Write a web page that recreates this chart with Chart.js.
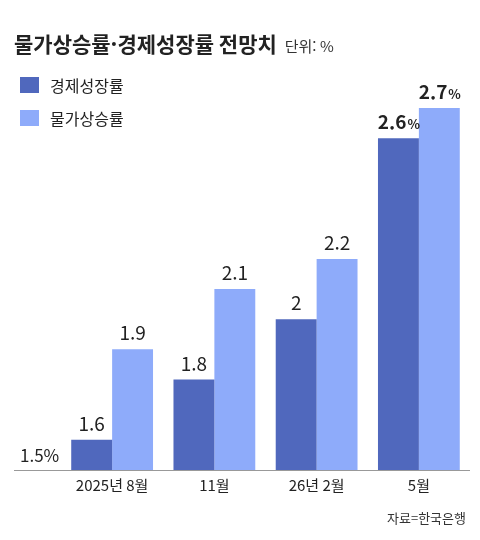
<!DOCTYPE html>
<html lang="ko">
<head>
<meta charset="UTF-8">
<script src="https://cdn.jsdelivr.net/npm/chart.js"></script>
<style>
  html, body { margin: 0; padding: 0; background: #fff; }
  #wrap { width: 480px; height: 540px; position: relative; }
</style>
</head>
<body>
<div id="wrap"><canvas id="c"></canvas></div>
<script>
const categories = ['2025년 8월', '11월', '26년 2월', '5월'];
const growth = [1.6, 1.8, 2, 2.6];
const inflation = [1.9, 2.1, 2.2, 2.7];
const growthLabels = ['1.6', '1.8', '2', '2.6'];
const inflationLabels = ['1.9', '2.1', '2.2', '2.7'];
const baseValue = 1.5;

const DARK = '#5068bd', LIGHT = '#8eabfa';
const FONT = "'Noto Sans CJK KR', 'Noto Sans', sans-serif";

const decor = {
  id: 'decor',
  afterDraw(chart) {
    const ctx = chart.ctx, y = chart.scales.y;
    ctx.save();
    // title
    ctx.fillStyle = '#222';
    ctx.textBaseline = 'alphabetic';
    ctx.font = 'bold 21px ' + FONT;
    ctx.fillText('물가상승률·경제성장률 전망치', 14, 52);
    const tw = ctx.measureText('물가상승률·경제성장률 전망치').width;
    ctx.font = '15px ' + FONT;
    ctx.fillStyle = '#333';
    ctx.fillText('단위: %', 14 + tw + 8, 52);
    // legend
    ctx.fillStyle = DARK; ctx.fillRect(20, 77, 19, 16);
    ctx.fillStyle = LIGHT; ctx.fillRect(20, 110, 19, 16);
    ctx.fillStyle = '#222';
    ctx.font = '16px ' + FONT;
    ctx.textBaseline = 'middle';
    ctx.fillText('경제성장률', 50, 86);
    ctx.fillText('물가상승률', 50, 119);
    // baseline
    const by = y.getPixelForValue(baseValue);
    ctx.strokeStyle = '#999'; ctx.lineWidth = 1;
    ctx.beginPath(); ctx.moveTo(14, by + 0.5); ctx.lineTo(470, by + 0.5); ctx.stroke();
    ctx.fillStyle = '#222';
    ctx.font = '17px ' + FONT;
    ctx.textBaseline = 'alphabetic';
    ctx.fillText('1.5%', 20, by - 8);
    // value labels
    ctx.textAlign = 'center';
    [[0, growthLabels], [1, inflationLabels]].forEach(([di, labels]) => {
      chart.getDatasetMeta(di).data.forEach((bar, i) => {
        const last = i === labels.length - 1;
        if (last) {
          ctx.font = 'bold 19px ' + FONT;
          const w = ctx.measureText(labels[i]).width;
          ctx.font = 'bold 13px ' + FONT;
          const pw = ctx.measureText('%').width;
          ctx.textAlign = 'left';
          const x0 = bar.x - (w + pw) / 2;
          ctx.font = 'bold 19px ' + FONT;
          ctx.fillText(labels[i], x0, bar.y - 9);
          ctx.font = 'bold 13px ' + FONT;
          ctx.fillText('%', x0 + w + 1, bar.y - 9);
          ctx.textAlign = 'center';
        } else {
          ctx.font = '19px ' + FONT;
          ctx.fillText(labels[i], bar.x, bar.y - 9);
        }
      });
    });
    // source
    ctx.textAlign = 'right';
    ctx.font = '13px ' + FONT;
    ctx.fillStyle = '#333';
    ctx.fillText('자료=한국은행', 466, 523);
    ctx.restore();
  }
};

new Chart(document.getElementById('c'), {
  type: 'bar',
  data: {
    labels: categories,
    datasets: [
      { label: '경제성장률', data: growth, backgroundColor: DARK },
      { label: '물가상승률', data: inflation, backgroundColor: LIGHT }
    ]
  },
  options: {
    responsive: true,
    maintainAspectRatio: false,
    animation: false,
    layout: { padding: { left: 61, right: 10, top: 93, bottom: 40 } },
    categoryPercentage: 0.8,
    barPercentage: 1,
    plugins: { legend: { display: false }, tooltip: { enabled: false } },
    scales: {
      x: {
        grid: { display: false, drawTicks: false },
        border: { display: false },
        ticks: { color: '#222', font: { family: FONT, size: 15 }, padding: 6 }
      },
      y: {
        display: false,
        min: baseValue,
        max: 2.75
      }
    }
  },
  plugins: [decor]
});
</script>
</body>
</html>
